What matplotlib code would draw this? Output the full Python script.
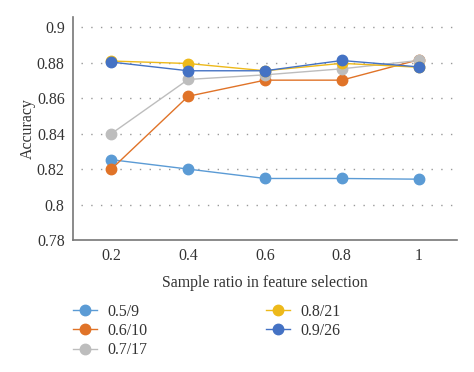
import matplotlib
matplotlib.use("Agg")
import matplotlib.pyplot as plt
from matplotlib.lines import Line2D

plt.rcParams['font.family'] = ['Liberation Serif', 'DejaVu Serif']

x = [0.2, 0.4, 0.6, 0.8, 1.0]
labels = ["0.5/9", "0.6/10", "0.7/17", "0.8/21", "0.9/26"]
s1 = [0.8253, 0.8200, 0.8147, 0.8147, 0.8143]
s2 = [0.8200, 0.8611, 0.8702, 0.8702, 0.8817]
s3 = [0.8400, 0.8706, 0.8732, 0.8766, 0.8813]
s4 = [0.8810, 0.8796, 0.8755, 0.8797, 0.8775]
s5 = [0.8804, 0.8755, 0.8755, 0.8813, 0.8777]
series = [s1, s2, s3, s4, s5]
colors = ["#5B9BD5", "#E07328", "#BDBDBD", "#EDB91A", "#4472C4"]
yticks = [0.78, 0.8, 0.82, 0.84, 0.86, 0.88, 0.9]
ytick_labels = ["0.78", "0.8", "0.82", "0.84", "0.86", "0.88", "0.9"]
xtick_labels = ["0.2", "0.4", "0.6", "0.8", "1"]

fs = 11.4
fig = plt.figure(figsize=(4.74, 3.72), dpi=100)
ax = fig.add_axes([0.154, 0.355, 0.81, 0.6])

for v in yticks[1:]:
    ax.axhline(v, xmin=0.02, xmax=0.99, color="#999999", linestyle=(0, (1, 6)), linewidth=1.0, zorder=0)

for ys, c, lab in zip(series, colors, labels):
    ax.plot(x, ys, color=c, linewidth=1.0, marker='o', markersize=7.5,
            markerfacecolor=c, markeredgecolor=c, label=lab, zorder=3)

ax.set_xlim(0.1, 1.1)
ax.set_ylim(0.78, 0.906)
ax.set_yticks(yticks)
ax.set_yticklabels(ytick_labels)
ax.set_xticks(x)
ax.set_xticklabels(xtick_labels)
ax.tick_params(length=0, labelsize=fs, colors="#333333", pad=6)
for sp in ['top', 'right']:
    ax.spines[sp].set_visible(False)
for sp in ['left', 'bottom']:
    ax.spines[sp].set_color("#777777")
    ax.spines[sp].set_linewidth(1.2)

ax.set_ylabel("Accuracy", fontsize=fs, color="#333333", labelpad=1)
ax.set_xlabel("Sample ratio in feature selection", fontsize=fs, color="#333333", labelpad=8)

handles = [Line2D([0], [0], color=c, linewidth=1.0, marker='o', markersize=7.5,
                  markerfacecolor=c, markeredgecolor=c) for c in colors]
fig.legend(handles, labels, loc='upper left', bbox_to_anchor=(0.124, 0.2215), ncol=2,
           frameon=False, fontsize=fs, handlelength=1.5, columnspacing=7.45,
           labelspacing=0.2, handletextpad=0.7, labelcolor="#333333")

fig.savefig("out.png", dpi=100)
